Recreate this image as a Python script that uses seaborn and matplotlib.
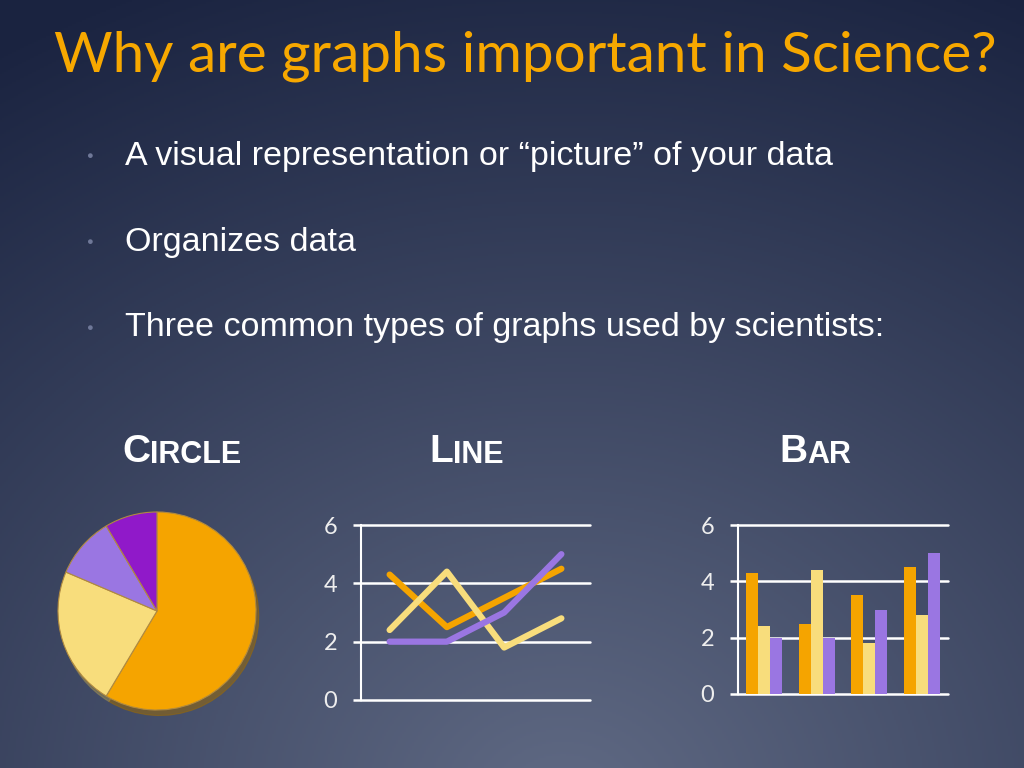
import numpy as np
import pandas as pd
import matplotlib.pyplot as plt
import seaborn as sns

# slide text
title = "Why are graphs important in Science?"
bullets = ["A visual representation or \u201cpicture\u201d of your data",
           "Organizes data",
           "Three common types of graphs used by scientists:"]
headers = [("C", "IRCLE"), ("L", "INE"), ("B", "AR")]

# chart data (PowerPoint sample values)
categories = ["Category 1", "Category 2", "Category 3", "Category 4"]
series_names = ["Series 1", "Series 2", "Series 3"]
series_1 = [4.3, 2.5, 3.5, 4.5]
series_2 = [2.4, 4.4, 1.8, 2.8]
series_3 = [2, 2, 3, 5]
pie_values = [8.2, 3.2, 1.4, 1.2]
yticks = [0, 2, 4, 6]

series_colors = ["#F5A400", "#F8DD7C", "#9A76E2"]
pie_colors = ["#F5A400", "#F8DD7C", "#9A76E2", "#9019C9"]

df = pd.DataFrame({
    "category": categories * 3,
    "series": np.repeat(series_names, len(categories)),
    "value": series_1 + series_2 + series_3,
})

sns.set_style("white")
plt.rcParams["font.family"] = ["Liberation Sans", "DejaVu Sans"]

fig = plt.figure(figsize=(10.24, 7.68), dpi=100)

# background: dark navy, lighter towards bottom centre
bg = fig.add_axes([0, 0, 1, 1], zorder=-5)
yy, xx = np.mgrid[0:1:384j, 0:1:512j]
d = np.sqrt(((xx - 0.55) * 1.0) ** 2 + ((yy - 1.05) * 0.9) ** 2)
t = np.clip(d / 1.05, 0, 1)[..., None]
light = np.array([0x60, 0x6a, 0x84]) / 255
dark = np.array([0x1a, 0x23, 0x40]) / 255
bg.imshow(light * (1 - t) + dark * t, extent=[0, 1, 0, 1], aspect="auto")
bg.set_axis_off()

# title and bullets
fig.text(54 / 1024, 1 - 72 / 768, title, color="#F7A800", fontsize=40.8,
         family=["Lato", "DejaVu Sans"], va="baseline", ha="left")
for i, b in enumerate(bullets):
    y = 1 - (156 + 86 * i) / 768
    fig.text(86 / 1024, y, "\u25cf", color="#6f7898", fontsize=8, va="center")
    fig.text(125 / 1024, y, b, color="white", fontsize=24.5, va="center")

# small-caps headers
for (big, small), x in zip(headers, [122, 429, 779]):
    t1 = fig.text(x / 1024, 1 - 462 / 768, big, color="white", fontsize=28,
                  fontweight="bold", va="baseline")
    plt.annotate(small, xy=(1, 0), xycoords=t1, color="white", fontsize=22,
                 fontweight="bold", va="bottom", ha="left")

# circle (pie)
ax_pie = fig.add_axes([57 / 1024, 1 - 711 / 768, 200 / 1024, 200 / 768])
ax_pie.pie(pie_values, colors=pie_colors, startangle=90, counterclock=False,
           wedgeprops={"linewidth": 0.8, "edgecolor": "#b08a40"},
           shadow={"ox": 0.02, "oy": -0.04, "shade": 0.35})
ax_pie.set_aspect("equal")
ax_pie.set_xlim(-1.01, 1.01)
ax_pie.set_ylim(-1.01, 1.01)


def style_axis(ax):
    ax.set_ylim(0, 6)
    ax.set_yticks(yticks)
    ax.set_xlim(-0.5, 3.5)
    ax.set_xticks([])
    ax.set_xlabel("")
    ax.set_ylabel("")
    ax.set_facecolor("none")
    for s in ["top", "right", "bottom"]:
        ax.spines[s].set_visible(False)
    ax.spines["left"].set_color("white")
    ax.spines["left"].set_linewidth(1.5)
    ax.grid(axis="y", color="white", linewidth=1.8, zorder=0)
    ax.set_axisbelow(True)
    for gl in ax.get_ygridlines():
        gl.set_clip_on(False)
    ax.tick_params(axis="y", direction="out", length=6, width=1.8,
                   color="white", labelcolor="#eeeeee", labelsize=17, pad=11,
                   left=True)
    for lab in ax.get_yticklabels():
        lab.set_family(["Lato", "DejaVu Sans"])


# line chart
ax_line = fig.add_axes([361 / 1024, 1 - 700 / 768, 229 / 1024, 175 / 768])
sns.lineplot(data=df, x="category", y="value", hue="series",
             palette=series_colors, linewidth=4.5, legend=False, ax=ax_line,
             solid_capstyle="round")
style_axis(ax_line)

# bar chart
ax_bar = fig.add_axes([738 / 1024, 1 - 694 / 768, 210 / 1024, 169 / 768])
sns.barplot(data=df, x="category", y="value", hue="series",
            palette=series_colors, width=0.68, gap=0, legend=False,
            ax=ax_bar, saturation=1, linewidth=0)
style_axis(ax_bar)

fig.savefig("out.png", dpi=100)
